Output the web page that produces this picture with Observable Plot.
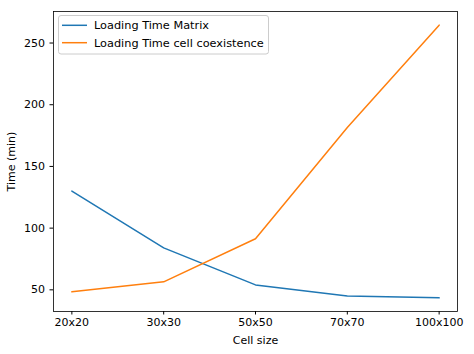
<!DOCTYPE html>
<html>
<head>
<meta charset="utf-8">
<script src="https://cdn.jsdelivr.net/npm/d3@7"></script>
<script src="https://cdn.jsdelivr.net/npm/@observablehq/plot@0.6"></script>
<style>
  body { margin: 0; background: #fff; }
</style>
</head>
<body>
<div id="chart"></div>
<script>
const cellSizes = ["20x20", "30x30", "50x50", "70x70", "100x100"];
const seriesNames = ["Loading Time Matrix", "Loading Time cell coexistence"];
const matrixTimes = [130, 84, 54, 45, 43.5];
const coexistenceTimes = [48.4, 56.5, 91.4, 181.5, 264.5];
const seriesColors = ["#1f77b4", "#ff7f0e"];
const yTicks = [50, 100, 150, 200, 250];

const data = [];
[matrixTimes, coexistenceTimes].forEach((vals, s) => {
  vals.forEach((v, i) => data.push({series: seriesNames[s], size: cellSizes[i], time: v}));
});

const all = matrixTimes.concat(coexistenceTimes);
const lo = d3.min(all), hi = d3.max(all), pad = (hi - lo) * 0.05;

const W = 474, H = 354, mL = 53, mR = 17, mT = 11, mB = 43;
const FS = 11;
const LFS = 11.3;

const plot = Plot.plot({
  width: W,
  height: H,
  marginLeft: mL,
  marginRight: mR,
  marginTop: mT,
  marginBottom: mB,
  style: {fontFamily: "DejaVu Sans", fontSize: FS + "px", color: "black", background: "white"},
  x: {type: "point", domain: cellSizes, padding: 0.2, round: false},
  y: {domain: [lo - pad, hi + pad]},
  color: {domain: seriesNames, range: seriesColors},
  marks: [
    Plot.axisX({tickSize: 3.5, tickPadding: 3.5, label: "Cell size", labelAnchor: "center", labelArrow: "none", labelOffset: 32, fontSize: FS}),
    Plot.axisY({ticks: yTicks, tickSize: 3.5, tickPadding: 5, label: "Time (min)", labelAnchor: "center", labelArrow: "none", labelOffset: 46, fontSize: FS}),
    Plot.line(data, {x: "size", y: "time", z: "series", stroke: "series", strokeWidth: 1.5}),
    Plot.frame({stroke: "black", strokeWidth: 0.8})
  ]
});

document.getElementById("chart").appendChild(plot);

// Legend (inside the plot area, upper left)
const svg = d3.select(plot);
const g = svg.append("g")
  .attr("font-family", "DejaVu Sans")
  .attr("font-size", LFS)
  .attr("text-anchor", "start");
g.append("rect")
  .attr("x", 58.5).attr("y", 15.5).attr("width", 210).attr("height", 38.5)
  .attr("rx", 2.5).attr("fill", "white").attr("fill-opacity", 0.8)
  .attr("stroke", "#cccccc").attr("stroke-width", 1);
seriesNames.forEach((name, i) => {
  const y = 25.3 + i * 17.4;
  g.append("line").attr("x1", 62).attr("x2", 87).attr("y1", y).attr("y2", y)
    .attr("stroke", seriesColors[i]).attr("stroke-width", 1.5);
  g.append("text").attr("x", 94).attr("y", y).attr("dy", "0.35em")
    .attr("text-anchor", "start")
    .attr("fill", "black").text(name);
});
</script>
</body>
</html>
